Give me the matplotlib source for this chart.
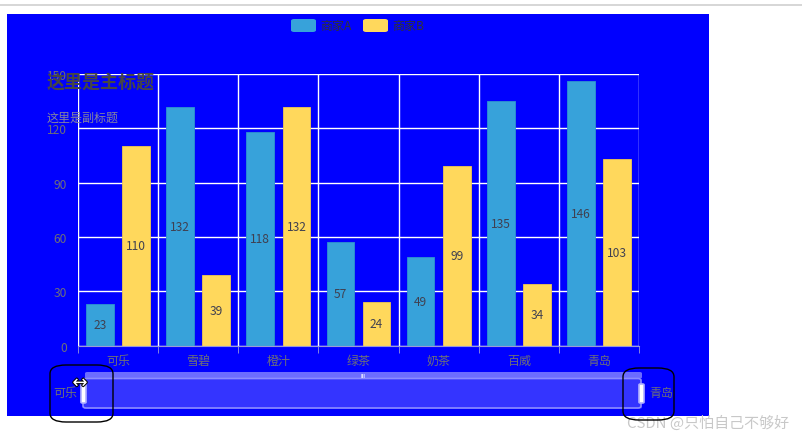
import matplotlib
matplotlib.use("Agg")
import matplotlib.pyplot as plt
from matplotlib.patches import Rectangle, FancyBboxPatch
from matplotlib.lines import Line2D
import matplotlib.patheffects as pe
import numpy as np

plt.rcParams['font.family'] = ['Noto Sans CJK SC', 'DejaVu Sans']

categories = ['可乐', '雪碧', '橙汁', '绿茶', '奶茶', '百威', '青岛']
series_a = [23, 132, 118, 57, 49, 135, 146]
series_b = [110, 39, 132, 24, 99, 34, 103]
series_names = ['商家A', '商家B']
yticks = [0, 30, 60, 90, 120, 150]
title = '这里是主标题'
subtitle = '这里是副标题'
watermark = 'CSDN @只怕自己不够好'

W, H = 802, 439
fig = plt.figure(figsize=(W / 100, H / 100), dpi=100, facecolor='white')

def fx(x):
    return x / W

def fy(y):
    return 1 - y / H

def px(v):
    return v * 0.72  # px -> pt

# browser line
fig.add_artist(Line2D([0, 1], [fy(6), fy(6)], color='#d0d0d0', lw=1.2, transform=fig.transFigure))
# blue chart background
fig.add_artist(Rectangle((fx(7), fy(416.5)), (709 - 7) / W, (416.5 - 15) / H,
                         transform=fig.transFigure, facecolor='#0000ff', edgecolor='none', zorder=0))

COL_A = '#37A2DA'
COL_B = '#FFD85C'
AXIS_TXT = '#6E7079'

# main axes
ax = fig.add_axes([fx(78), fy(346.5), (639 - 78) / W, (346.5 - 75) / H])
ax.set_facecolor('none')
x = np.arange(len(categories))
bw = 0.347
off = 0.65 * bw
ba = ax.bar(x - off, series_a, width=bw, color=COL_A, edgecolor='#2f93cf', linewidth=0.6, zorder=3)
bb = ax.bar(x + off, series_b, width=bw, color=COL_B, edgecolor='#f0c850', linewidth=0.6, zorder=3)
ax.bar_label(ba, label_type='center', color='#404050', fontsize=px(12))
ax.bar_label(bb, label_type='center', color='#404050', fontsize=px(12))

ax.set_xlim(-0.5, len(categories) - 0.5)
ax.set_ylim(0, 150)
ax.set_yticks(yticks)
ax.set_xticks(x)
ax.set_xticklabels(categories)
ax.set_xticks(np.arange(len(categories) + 1) - 0.5, minor=True)
ax.grid(axis='y', color='white', lw=1, zorder=1)
ax.grid(axis='x', which='minor', color='white', lw=1, zorder=1)
for s in ['top', 'right', 'left']:
    ax.spines[s].set_visible(False)
ax.spines['bottom'].set_color('#9a9ad8')
ax.spines['bottom'].set_zorder(4)
ax.tick_params(axis='x', which='major', length=0, pad=6, labelsize=px(12), labelcolor=AXIS_TXT)
ax.tick_params(axis='x', which='minor', length=5, color='#9a9ad8', direction='out')
ax.tick_params(axis='y', length=0, pad=8, labelsize=px(12), labelcolor=AXIS_TXT)

# title
fig.text(fx(47), fy(84), title, fontsize=px(18), fontweight='bold', color='#464646', va='center', ha='left')
fig.text(fx(47), fy(118), subtitle, fontsize=px(12), color='#8484a0', va='center', ha='left')

# legend
for i, (name, col) in enumerate(zip(series_names, [COL_A, COL_B])):
    x0 = 291 + i * 72
    fig.add_artist(FancyBboxPatch((fx(x0), fy(33)), 25 / W, 13 / H,
                                  boxstyle='round,pad=0,rounding_size=0.004',
                                  transform=fig.transFigure, facecolor=col, edgecolor='none'))
    fig.text(fx(x0 + 29), fy(26), name, fontsize=px(12), color='#333333', va='center', ha='left')

# data zoom slider
fig.add_artist(FancyBboxPatch((fx(85), fy(379.5)), (642 - 85) / W, 6.5 / H,
                              boxstyle='round,pad=0,rounding_size=0.003',
                              transform=fig.transFigure, facecolor='#6c6cff', edgecolor='none', zorder=1))
fig.text(fx(363), fy(376.5), 'III', fontsize=3.5, color='white', ha='center', va='center', fontweight='bold')
fig.add_artist(FancyBboxPatch((fx(83), fy(409)), (641 - 83) / W, 29.5 / H,
                              boxstyle='round,pad=0,rounding_size=0.004',
                              transform=fig.transFigure, facecolor='#3434ff', edgecolor='#8c8cff', lw=1.2, zorder=1))

sax = fig.add_axes([fx(83), fy(409), (641 - 83) / W, 29.5 / H])
sax.set_facecolor('none')
sax.axis('off')
amin, amax = min(series_a), max(series_a)
pad = (amax - amin) * 0.3
sax.set_xlim(0, len(series_a) - 1)
sax.set_ylim(amin - pad, amax + pad)
sax.fill_between(np.arange(len(series_a)), series_a, amin - pad, color='#3c3cff', lw=0, zorder=1)
sax.plot(np.arange(len(series_a)), series_a, color='#7a7aff', lw=1.0, zorder=2)

for hx in [83.5, 641.5]:
    fig.add_artist(FancyBboxPatch((fx(hx - 2.5), fy(404)), 5 / W, 19 / H,
                                  boxstyle='round,pad=0,rounding_size=0.002',
                                  transform=fig.transFigure, facecolor='white', edgecolor='#b0b0ff', lw=1.2, zorder=3))

fig.text(fx(77), fy(393.5), categories[0], fontsize=px(12), color=AXIS_TXT, ha='right', va='center')
fig.text(fx(649), fy(393.5), categories[-1], fontsize=px(12), color=AXIS_TXT, ha='left', va='center')

# annotation rounded boxes (hand-drawn)
fig.add_artist(FancyBboxPatch((fx(50), fy(423)), (113 - 50) / W, (423 - 366) / H,
                              boxstyle='round,pad=0,rounding_size=0.02',
                              transform=fig.transFigure, facecolor='none', edgecolor='black', lw=1, zorder=5))
fig.add_artist(FancyBboxPatch((fx(623), fy(421)), (674 - 623) / W, (421 - 369) / H,
                              boxstyle='round,pad=0,rounding_size=0.02',
                              transform=fig.transFigure, facecolor='none', edgecolor='black', lw=1, zorder=5))
# cursor icon
fig.text(fx(80), fy(384), '↔', fontsize=13, color='white', ha='center', va='center', family='DejaVu Sans',
         path_effects=[pe.withStroke(linewidth=1.5, foreground='black')], zorder=6)

# watermark
fig.text(fx(627), fy(423), watermark, fontsize=px(15), color='#c8c8c8', ha='left', va='center')

fig.savefig('out.png', dpi=100, facecolor='white')
